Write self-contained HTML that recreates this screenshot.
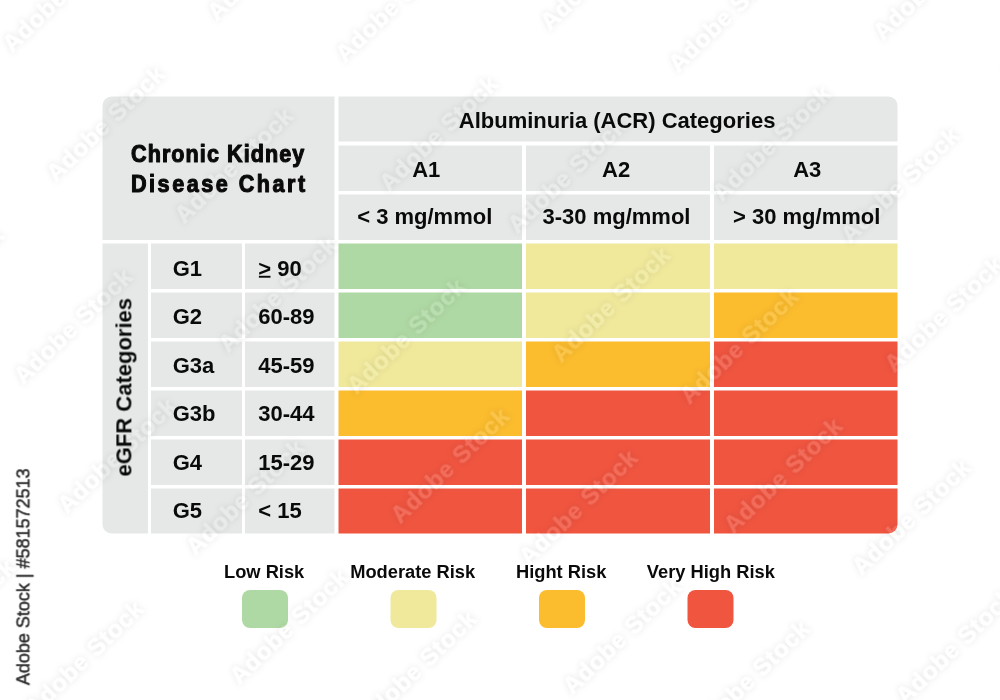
<!DOCTYPE html>
<html lang="en"><head><meta charset="utf-8"><title>Chronic Kidney Disease Chart</title>
<style>
html,body{margin:0;padding:0;background:#fff}
body{width:1000px;height:700px;overflow:hidden;font-family:"Liberation Sans",sans-serif}
svg{display:block}
svg text{font-family:"Liberation Sans",sans-serif;font-weight:bold;fill:#0a0a0a}
svg .wm text{fill:#ffffff}
svg text.cr{font-weight:normal;fill:#2b2b2b;stroke:#2b2b2b;stroke-width:0.45px}
</style></head><body>
<svg width="1000" height="700" viewBox="0 0 1000 700">
<rect width="1000" height="700" fill="#ffffff"/>
<g id="cells">
<path d="M111.5,96.5 H334.5 V240 H102.5 V105.5 A9,9 0 0 1 111.5,96.5 Z" fill="#e6e8e8"/>
<path d="M338.5,96.5 H888.5 A9,9 0 0 1 897.5,105.5 V141.5 H338.5 V96.5 Z" fill="#e6e8e8"/>
<rect x="338.5" y="145.5" width="183.5" height="45.5" fill="#e6e8e8"/>
<rect x="526" y="145.5" width="184" height="45.5" fill="#e6e8e8"/>
<rect x="714" y="145.5" width="183.5" height="45.5" fill="#e6e8e8"/>
<rect x="338.5" y="194.5" width="183.5" height="45.5" fill="#e6e8e8"/>
<rect x="526" y="194.5" width="184" height="45.5" fill="#e6e8e8"/>
<rect x="714" y="194.5" width="183.5" height="45.5" fill="#e6e8e8"/>
<path d="M102.5,243.5 H148 V533.5 H111.5 A9,9 0 0 1 102.5,524.5 V243.5 Z" fill="#e6e8e8"/>
<rect x="151" y="243.5" width="91" height="45.5" fill="#e6e8e8"/>
<rect x="245" y="243.5" width="89.5" height="45.5" fill="#e6e8e8"/>
<rect x="151" y="292.5" width="91" height="45.5" fill="#e6e8e8"/>
<rect x="245" y="292.5" width="89.5" height="45.5" fill="#e6e8e8"/>
<rect x="151" y="341.5" width="91" height="45.5" fill="#e6e8e8"/>
<rect x="245" y="341.5" width="89.5" height="45.5" fill="#e6e8e8"/>
<rect x="151" y="390.5" width="91" height="45.5" fill="#e6e8e8"/>
<rect x="245" y="390.5" width="89.5" height="45.5" fill="#e6e8e8"/>
<rect x="151" y="439.5" width="91" height="45.5" fill="#e6e8e8"/>
<rect x="245" y="439.5" width="89.5" height="45.5" fill="#e6e8e8"/>
<rect x="151" y="488.5" width="91" height="45.0" fill="#e6e8e8"/>
<rect x="245" y="488.5" width="89.5" height="45.0" fill="#e6e8e8"/>
<rect x="338.5" y="243.5" width="183.5" height="45.5" fill="#afd9a4"/>
<rect x="526" y="243.5" width="184" height="45.5" fill="#f0e99c"/>
<rect x="714" y="243.5" width="183.5" height="45.5" fill="#f0e99c"/>
<rect x="338.5" y="292.5" width="183.5" height="45.5" fill="#afd9a4"/>
<rect x="526" y="292.5" width="184" height="45.5" fill="#f0e99c"/>
<rect x="714" y="292.5" width="183.5" height="45.5" fill="#fbbc2e"/>
<rect x="338.5" y="341.5" width="183.5" height="45.5" fill="#f0e99c"/>
<rect x="526" y="341.5" width="184" height="45.5" fill="#fbbc2e"/>
<rect x="714" y="341.5" width="183.5" height="45.5" fill="#f05540"/>
<rect x="338.5" y="390.5" width="183.5" height="45.5" fill="#fbbc2e"/>
<rect x="526" y="390.5" width="184" height="45.5" fill="#f05540"/>
<rect x="714" y="390.5" width="183.5" height="45.5" fill="#f05540"/>
<rect x="338.5" y="439.5" width="183.5" height="45.5" fill="#f05540"/>
<rect x="526" y="439.5" width="184" height="45.5" fill="#f05540"/>
<rect x="714" y="439.5" width="183.5" height="45.5" fill="#f05540"/>
<rect x="338.5" y="488.5" width="183.5" height="45.0" fill="#f05540"/>
<rect x="526" y="488.5" width="184" height="45.0" fill="#f05540"/>
<path d="M714,488.5 H897.5 V524.5 A9,9 0 0 1 888.5,533.5 H714 V488.5 Z" fill="#f05540"/>
</g>
<g id="legend-swatches">
<rect x="242" y="590" width="46" height="38" rx="8" ry="8" fill="#afd9a4"/>
<rect x="390.5" y="590" width="46" height="38" rx="8" ry="8" fill="#f0e99c"/>
<rect x="539" y="590" width="46" height="38" rx="8" ry="8" fill="#fbbc2e"/>
<rect x="687.5" y="590" width="46" height="38" rx="8" ry="8" fill="#f05540"/>
</g>
<defs><filter id="wmf" filterUnits="userSpaceOnUse" x="0" y="0" width="1000" height="700"><feGaussianBlur in="SourceAlpha" stdDeviation="3" result="b"/><feColorMatrix in="b" type="matrix" values="0 0 0 0 0  0 0 0 0 0  0 0 0 0 0  0 0 0 0.12 0" result="s0"/><feComposite in="s0" in2="SourceAlpha" operator="out" result="s"/><feColorMatrix in="SourceGraphic" type="matrix" values="1 0 0 0 0  0 1 0 0 0  0 0 1 0 0  0 0 0 0.14 0" result="w"/><feMerge><feMergeNode in="s"/><feMergeNode in="w"/></feMerge></filter></defs>
<g id="watermark" filter="url(#wmf)" class="wm" font-size="24" letter-spacing="0.7">
<text transform="translate(-116.2,11.8) rotate(-44)">Adobe Stock</text>
<text transform="translate(12.2,53.6) rotate(-44)">Adobe Stock</text>
<text transform="translate(-104.9,343.9) rotate(-44)">Adobe Stock</text>
<text transform="translate(56.0,182.8) rotate(-44)">Adobe Stock</text>
<text transform="translate(216.9,21.7) rotate(-44)">Adobe Stock</text>
<text transform="translate(23.5,385.6) rotate(-44)">Adobe Stock</text>
<text transform="translate(184.3,224.6) rotate(-44)">Adobe Stock</text>
<text transform="translate(345.2,63.5) rotate(-44)">Adobe Stock</text>
<text transform="translate(-93.6,675.9) rotate(-44)">Adobe Stock</text>
<text transform="translate(67.3,514.8) rotate(-44)">Adobe Stock</text>
<text transform="translate(228.2,353.8) rotate(-44)">Adobe Stock</text>
<text transform="translate(389.0,192.7) rotate(-44)">Adobe Stock</text>
<text transform="translate(549.9,31.6) rotate(-44)">Adobe Stock</text>
<text transform="translate(34.8,717.7) rotate(-44)">Adobe Stock</text>
<text transform="translate(195.6,556.6) rotate(-44)">Adobe Stock</text>
<text transform="translate(356.5,395.5) rotate(-44)">Adobe Stock</text>
<text transform="translate(517.4,234.5) rotate(-44)">Adobe Stock</text>
<text transform="translate(678.2,73.4) rotate(-44)">Adobe Stock</text>
<text transform="translate(239.4,685.8) rotate(-44)">Adobe Stock</text>
<text transform="translate(400.3,524.8) rotate(-44)">Adobe Stock</text>
<text transform="translate(561.2,363.7) rotate(-44)">Adobe Stock</text>
<text transform="translate(722.1,202.6) rotate(-44)">Adobe Stock</text>
<text transform="translate(882.9,41.6) rotate(-44)">Adobe Stock</text>
<text transform="translate(367.8,727.6) rotate(-44)">Adobe Stock</text>
<text transform="translate(528.7,566.5) rotate(-44)">Adobe Stock</text>
<text transform="translate(689.5,405.4) rotate(-44)">Adobe Stock</text>
<text transform="translate(850.4,244.4) rotate(-44)">Adobe Stock</text>
<text transform="translate(1011.3,83.3) rotate(-44)">Adobe Stock</text>
<text transform="translate(572.5,695.7) rotate(-44)">Adobe Stock</text>
<text transform="translate(733.4,534.7) rotate(-44)">Adobe Stock</text>
<text transform="translate(894.2,373.6) rotate(-44)">Adobe Stock</text>
<text transform="translate(700.8,737.5) rotate(-44)">Adobe Stock</text>
<text transform="translate(861.7,576.4) rotate(-44)">Adobe Stock</text>
<text transform="translate(905.5,705.7) rotate(-44)">Adobe Stock</text>
</g>
<g id="labels">
<text x="458.8" y="127.7" font-size="22">Albuminuria (ACR) Categories</text>
<text x="412.2" y="176.7" font-size="22">A1</text>
<text x="602" y="176.7" font-size="22">A2</text>
<text x="793.2" y="176.7" font-size="22">A3</text>
<text x="357.2" y="224.3" font-size="22">&lt; 3 mg/mmol</text>
<text x="542.5" y="224.3" font-size="22">3-30 mg/mmol</text>
<text x="733" y="224.3" font-size="22">&gt; 30 mg/mmol</text>
<text x="172.7" y="275.6" font-size="22">G1</text>
<text x="258.2" y="275.6" font-size="22">&gt; 90</text>
<text x="172.7" y="324.1" font-size="22">G2</text>
<text x="258.2" y="324.1" font-size="22">60-89</text>
<text x="172.7" y="372.6" font-size="22">G3a</text>
<text x="258.2" y="372.6" font-size="22">45-59</text>
<text x="172.7" y="421.1" font-size="22">G3b</text>
<text x="258.2" y="421.1" font-size="22">30-44</text>
<text x="172.7" y="469.6" font-size="22">G4</text>
<text x="258.2" y="469.6" font-size="22">15-29</text>
<text x="172.7" y="518.1" font-size="22">G5</text>
<text x="258.2" y="518.1" font-size="22">&lt; 15</text>
<text transform="translate(131.4,476.5) rotate(-90)" font-size="22">eGFR Categories</text>
<rect x="258.9" y="275.8" width="11.6" height="1.9" fill="#0a0a0a"/>
<g transform="translate(131,161.8) scale(0.9,1)" stroke="#0a0a0a" stroke-width="1.1" stroke-linejoin="round"><text x="0" y="0" font-size="24" letter-spacing="1.17">Chronic Kidney</text><text x="0" y="30.6" font-size="24" letter-spacing="2.79">Disease Chart</text></g>
<text x="224.0" y="577.7" font-size="18.3">Low Risk</text>
<text x="350.2" y="577.7" font-size="18.3">Moderate Risk</text>
<text x="516.0" y="577.7" font-size="18.3">Hight Risk</text>
<text x="646.8" y="577.7" font-size="18.3">Very High Risk</text>
</g>
<text transform="translate(29.4,685.2) rotate(-90)" font-size="18" class="cr">Adobe Stock | #581572513</text>
</svg>
</body></html>
